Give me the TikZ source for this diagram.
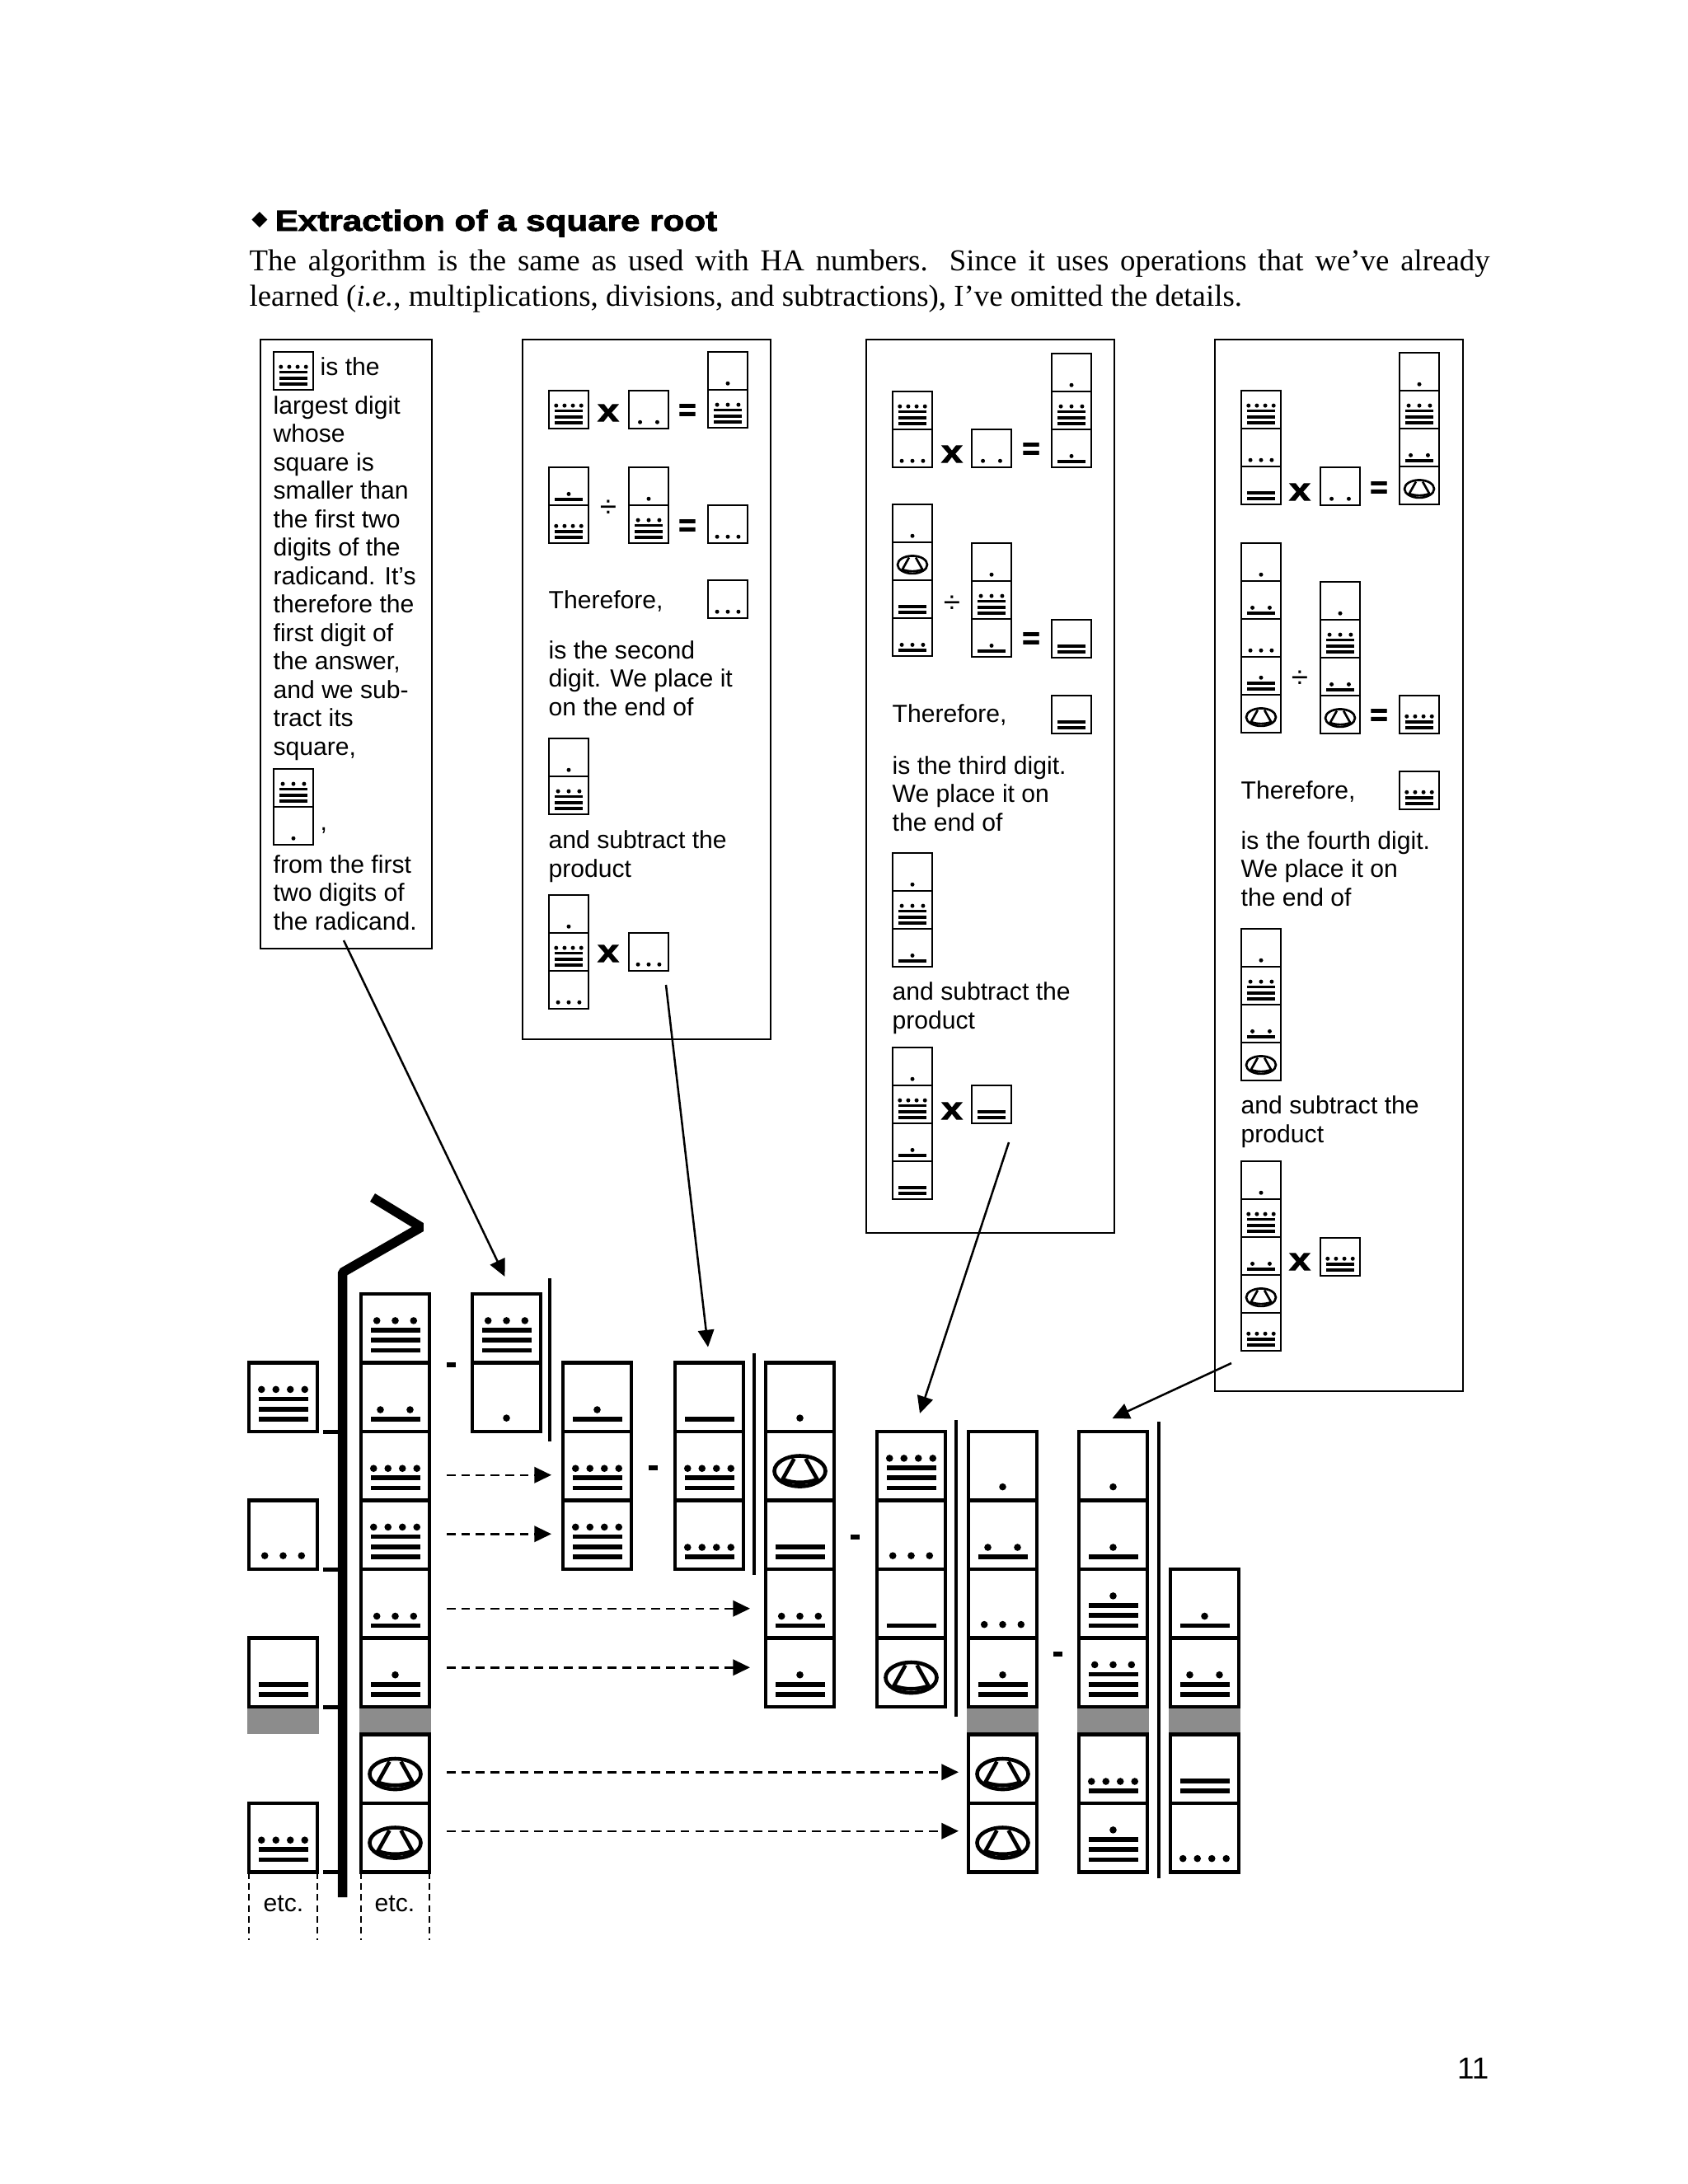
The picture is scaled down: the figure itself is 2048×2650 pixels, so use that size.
\documentclass[tikz,border=0pt]{standalone}
\usepackage{fontspec}
\setmainfont{Liberation Serif}
\setsansfont{Liberation Sans}
\newfontfamily\blackfont[BoldFeatures={FakeBold=2.4}]{Liberation Sans}
\newfontfamily\titlefont[BoldFeatures={FakeBold=2.6,FakeStretch=1.2}]{Liberation Sans}
\newfontfamily\symbfont{DejaVu Sans}
\usetikzlibrary{positioning,arrows.meta,calc}

% 1 unit of the picture is 1 pixel of the scanned page
\def\pu{0.29883pt}

% one vertical stack of digit cells: name, x, y, pitch, width, scale, base, frame, dots/bars list (dots 9 = shell)
\newcommand{\digitstack}[9]{%
  \foreach \dd/\bb [count=\ii from 0] in {#9} {
    \pgfmathsetmacro\yy{#3+\ii*#4}
    \pgfmathsetmacro\yb{\yy+#4}
    \pgfmathsetmacro\xc{#2+#5/2}
    \node[#8,minimum width={#5*\pu},minimum height={#4*\pu}] (#1-\ii) at (#2,\yy) {};
    \begin{scope}[shift={(\xc,\yb)},scale=#6]
      \ifnum\dd=9
        \pgfmathsetmacro\sy{#7+20.5}
        \begin{scope}[shift={(0,-\sy)},line width={#6*4.6*\pu}]
          \draw (0,0) ellipse [x radius=31,y radius=18.5];
          \draw (-7,-15) -- (-21,10) .. controls (-8,15) and (8,15) .. (21,10) -- (7,-15);
        \end{scope}
      \else
        \ifnum\bb>0
          \foreach \n in {1,...,\bb} {
            \pgfmathsetmacro\by{#7+12.3*(\n-1)}
            \fill (-30,-\by-2.9) rectangle (30,-\by+2.9);
          }
        \fi
        \pgfmathsetmacro\dy{\bb>0 ? #7+12.3*(\bb-1)+11.5 : #7+1.4}
        \ifcase\dd \def\dotxs{}\or \def\dotxs{0}\or \def\dotxs{-18,18}\or
          \def\dotxs{-22.3,0,22.3}\or \def\dotxs{-26.25,-8.75,8.75,26.25}\fi
        \ifnum\dd>0
          \foreach \dotx in \dotxs { \fill (\dotx,-\dy) circle [radius=4.3]; }
        \fi
      \fi
    \end{scope}
  }%
}
\newcommand{\bigstack}[4]{\digitstack{#1}{#2}{#3}{83.5}{83}{1}{15}{bigcell}{#4}}
\newcommand{\smallstack}[4]{\digitstack{#1}{#2}{#3}{46}{48}{0.58}{12}{smallcell}{#4}}

\begin{document}
\begin{tikzpicture}[
  x=\pu, y=-\pu, >={Triangle[length=6.2pt,width=5.8pt]},
  bigcell/.style={draw,line width={4.8*\pu},inner sep=0,outer sep=0,anchor=north west},
  smallcell/.style={draw,line width={2.6*\pu},inner sep=0,outer sep=0,anchor=north west},
  panel/.style={draw,line width={2.6*\pu},inner sep=0,outer sep=0,anchor=north west},
  graybar/.style={fill=black!45,inner sep=0,outer sep=0,anchor=north west,minimum width={87*\pu},minimum height={33*\pu}},
  minussign/.style={fill,inner sep=0,minimum width={11*\pu},minimum height={6*\pu}},
  txt/.style={font=\sffamily\fontsize{9}{10.31}\selectfont,align=left,inner sep=0,anchor=base west},
  opsign/.style={font=\blackfont\bfseries\fontsize{11}{11}\selectfont,inner sep=0},
  timessign/.style={font=\titlefont\bfseries\fontsize{11.5}{12}\selectfont,inner sep=0},
  divsign/.style={font=\sffamily\fontsize{11}{11}\selectfont,inner sep=0},
  e/.style={->,line width={2.5*\pu}},
  dsh/.style={->,line width={2.5*\pu},dash pattern=on 3.2pt off 2.1pt},
  etcline/.style={line width={2*\pu},dash pattern=on 2.4pt off 1.6pt},
  rulebar/.style={line width={4.3*\pu}},
  rad/.style={line width={11.5*\pu},line join=bevel},
  tick/.style={line width={5*\pu}},
]
\path[use as bounding box] (0,0) rectangle (2048,2650);

% heading and paragraph
\node[font=\symbfont\fontsize{7.5}{8}\selectfont,inner sep=0] (bullet) at (315,267) {◆};
\node[font=\titlefont\bfseries\fontsize{10.5}{12}\selectfont,inner sep=0,anchor=base west] (title) at (333,280) {Extraction of a square root};
\node[font=\rmfamily\fontsize{11}{12.85}\selectfont,text width=449.7pt,align=justify,inner sep=0,anchor=base west] (para) at (302,328)
  {The algorithm is the same as used with HA numbers. Since it uses operations that we’ve already\linebreak learned (\textit{i.e.}, multiplications, divisions, and subtractions), I’ve omitted the details.};
\node[font=\sffamily\fontsize{11}{12}\selectfont,inner sep=0,anchor=base east] (pageno) at (1807,2522) {11};

% the four text panels
\node[panel,minimum width={208*\pu},minimum height={739*\pu}] (box1) at (316,412) {};
\node[panel,minimum width={301*\pu},minimum height={849*\pu}] (box2) at (634,412) {};
\node[panel,minimum width={301*\pu},minimum height={1084*\pu}] (box3) at (1051,412) {};
\node[panel,minimum width={301*\pu},minimum height={1276*\pu}] (box4) at (1474,412) {};

% panel 1
\smallstack{p1a}{332}{427}{4/3}
\node[txt] (p1t1) at (388,455) {is the};
\node[txt] (p1t2) at (331,916) {largest digit\\whose\\square is\\smaller than\\the first two\\digits of the\\radicand. It’s\\therefore the\\first digit of\\the answer,\\and we sub-\\tract its\\square,};
\smallstack{p1b}{332}{933}{3/3,1/0}
\node[txt] (p1t3) at (388,1007) {,};
\node[txt] (p1t4) at (331,1128) {from the first\\two digits of\\the radicand.};

% panel 2
\smallstack{p2a}{666}{474}{4/3}
\node[timessign] (p2x) at (738,501) {x};
\smallstack{p2b}{763}{474}{2/0}
\node[opsign] (p2q) at (834,500) {=};
\smallstack{p2c}{859}{427}{1/0,3/3}
\smallstack{p2d}{666}{567}{1/1,4/2}
\node[divsign] (p2v) at (738,617) {÷};
\smallstack{p2e}{763}{567}{1/0,3/3}
\node[opsign] (p2r) at (834,640) {=};
\smallstack{p2f}{859}{613}{3/0}
\node[txt] (p2t1) at (665,738) {Therefore,};
\smallstack{p2g}{859}{704}{3/0}
\node[txt] (p2t2) at (665,868) {is the second\\digit. We place it\\on the end of};
\smallstack{p2h}{666}{896}{1/0,3/3}
\node[txt] (p2t3) at (665,1064) {and subtract the\\product};
\smallstack{p2i}{666}{1086}{1/0,4/3,3/0}
\node[timessign] (p2y) at (738,1157) {x};
\smallstack{p2j}{763}{1132}{3/0}

% panel 3
\smallstack{p3a}{1083}{475}{4/3,3/0}
\node[timessign] (p3x) at (1155,551) {x};
\smallstack{p3b}{1179}{521}{2/0}
\node[opsign] (p3q) at (1251,547) {=};
\smallstack{p3c}{1276}{429}{1/0,3/3,1/1}
\smallstack{p3d}{1083}{612}{1/0,9/0,0/2,3/1}
\node[divsign] (p3v) at (1155,733) {÷};
\smallstack{p3e}{1179}{659}{1/0,3/3,1/1}
\node[opsign] (p3r) at (1251,777) {=};
\smallstack{p3f}{1276}{752}{0/2}
\node[txt] (p3t1) at (1082,876) {Therefore,};
\smallstack{p3g}{1276}{844}{0/2}
\node[txt] (p3t2) at (1082,1008) {is the third digit.\\We place it on\\the end of};
\smallstack{p3h}{1083}{1035}{1/0,3/3,1/1}
\node[txt] (p3t3) at (1082,1248) {and subtract the\\product};
\smallstack{p3i}{1083}{1271}{1/0,4/3,1/1,0/2}
\node[timessign] (p3y) at (1155,1348) {x};
\smallstack{p3j}{1179}{1317}{0/2}

% panel 4
\smallstack{p4a}{1506}{474}{4/3,3/0,0/2}
\node[timessign] (p4x) at (1577,597) {x};
\smallstack{p4b}{1602}{567}{2/0}
\node[opsign] (p4q) at (1673,594) {=};
\smallstack{p4c}{1698}{428}{1/0,3/3,2/1,9/0}
\smallstack{p4d}{1506}{659}{1/0,2/1,3/0,1/2,9/0}
\node[divsign] (p4v) at (1577,824) {÷};
\smallstack{p4e}{1602}{706}{1/0,3/3,2/1,9/0}
\node[opsign] (p4r) at (1673,870) {=};
\smallstack{p4f}{1698}{844}{4/2}
\node[txt] (p4t1) at (1505,969) {Therefore,};
\smallstack{p4g}{1698}{936}{4/2}
\node[txt] (p4t2) at (1505,1099) {is the fourth digit.\\We place it on\\the end of};
\smallstack{p4h}{1506}{1127}{1/0,3/3,2/1,9/0}
\node[txt] (p4t3) at (1505,1386) {and subtract the\\product};
\smallstack{p4i}{1506}{1409}{1/0,4/3,2/1,9/0,4/2}
\node[timessign] (p4y) at (1577,1531) {x};
\smallstack{p4j}{1602}{1502}{4/2}

% gray strips behind the frames
\node[graybar] (g1) at (300,2071) {};
\node[graybar] (g2) at (436,2071) {};
\node[graybar] (g8) at (1173,2071) {};
\node[graybar] (g9) at (1307,2071) {};
\node[graybar] (g10) at (1418,2071) {};

% big layout: root digits on the left, radicand, then the successive remainders
\bigstack{l1}{302}{1653.5}{4/3}
\bigstack{l2}{302}{1820.5}{3/0}
\bigstack{l3}{302}{1987.5}{0/2}
\bigstack{l4}{302}{2188}{4/2}
\bigstack{c2}{438}{1570}{3/3,2/1,4/2,4/3,3/1,1/2}
\bigstack{c2b}{438}{2104.5}{9/0,9/0}
\bigstack{c3}{573}{1570}{3/3,1/0}
\bigstack{c4}{683}{1653.5}{1/1,4/2,4/3}
\bigstack{c5}{819}{1653.5}{0/1,4/2,4/1}
\bigstack{c6}{929}{1653.5}{1/0,9/0,0/2,3/1,1/2}
\bigstack{c7}{1064}{1737}{4/3,3/0,0/1,9/0}
\bigstack{c8}{1175}{1737}{1/0,2/1,3/0,1/2}
\bigstack{c8b}{1175}{2104.5}{9/0,9/0}
\bigstack{c9}{1309}{1737}{1/0,1/1,1/3,3/3}
\bigstack{c9b}{1309}{2104.5}{4/1,1/3}
\bigstack{c10}{1420}{1904}{1/1,2/2}
\bigstack{c10b}{1420}{2104.5}{0/2,4/0}

% radical sign and its ticks
\coordinate (radfoot) at (415.5,2302);
\coordinate (radtop) at (415.5,1544);
\coordinate (radtip) at (511,1489);
\coordinate (radend) at (452,1453);
\draw[rad] (radfoot) -- (radtop) -- (radtip) -- (radend);
\draw[tick] ($(l1-0.south east)+(7,0)$) -- ($(l1-0.south east)+(36,0)$);
\draw[tick] ($(l2-0.south east)+(7,0)$) -- ($(l2-0.south east)+(36,0)$);
\draw[tick] ($(l3-0.south east)+(7,0)$) -- ($(l3-0.south east)+(36,0)$);
\draw[tick] ($(l4-0.south east)+(7,0)$) -- ($(l4-0.south east)+(36,0)$);

% rules and minus signs
\draw[rulebar] (667,1551) -- (667,1749);
\draw[rulebar] (915,1642) -- (915,1911);
\draw[rulebar] (1160,1723) -- (1160,2083);
\draw[rulebar] (1406,1725) -- (1406,2279);
\node[minussign] (m1) at (547,1656) {};
\node[minussign] (m2) at (792,1781) {};
\node[minussign] (m3) at (1037,1865) {};
\node[minussign] (m4) at (1283,2007) {};

% dashed carries
\draw[dsh] ($(c2-2.east)+(21,11)$) -- ($(c4-1.west)+(-14,11)$);
\draw[dsh] ($(c2-3.east)+(21,-1)$) -- ($(c4-2.west)+(-14,-1)$);
\draw[dsh] ($(c2-4.east)+(21,6)$) -- ($(c6-3.west)+(-19,6)$);
\draw[dsh] ($(c2-5.east)+(21,-6)$) -- ($(c6-4.west)+(-19,-6)$);
\draw[dsh] ($(c2b-0.east)+(21,4)$) -- ($(c8b-0.west)+(-12,4)$);
\draw[dsh] ($(c2b-1.east)+(21,-8)$) -- ($(c8b-1.west)+(-12,-8)$);

% arrows out of the panels
\coordinate (tail1) at (417,1141);
\coordinate (tail2) at (808,1195);
\coordinate (tail3) at (1224,1386);
\coordinate (tail4) at (1494,1654);
\draw[e] (tail1) -- ($(c3-0.north)+(-2,-21)$);
\draw[e] (tail2) -- ($(c5-0.north)+(-1.5,-19)$);
\draw[e] (tail3) -- ($(c7-0.north)+(10.5,-22)$);
\draw[e] (tail4) -- ($(c9-0.north)+(-1,-16)$);

% open columns below the last digits
\draw[etcline] (l4-0.south west) -- ++(0,82);
\draw[etcline] (l4-0.south east) -- ++(0,82);
\draw[etcline] (c2b-1.south west) -- ++(0,82);
\draw[etcline] (c2b-1.south east) -- ++(0,82);
\node[txt,anchor=base] (etc1) at (344,2319) {etc.};
\node[txt,anchor=base] (etc2) at (479,2319) {etc.};
\end{tikzpicture}
\end{document}
